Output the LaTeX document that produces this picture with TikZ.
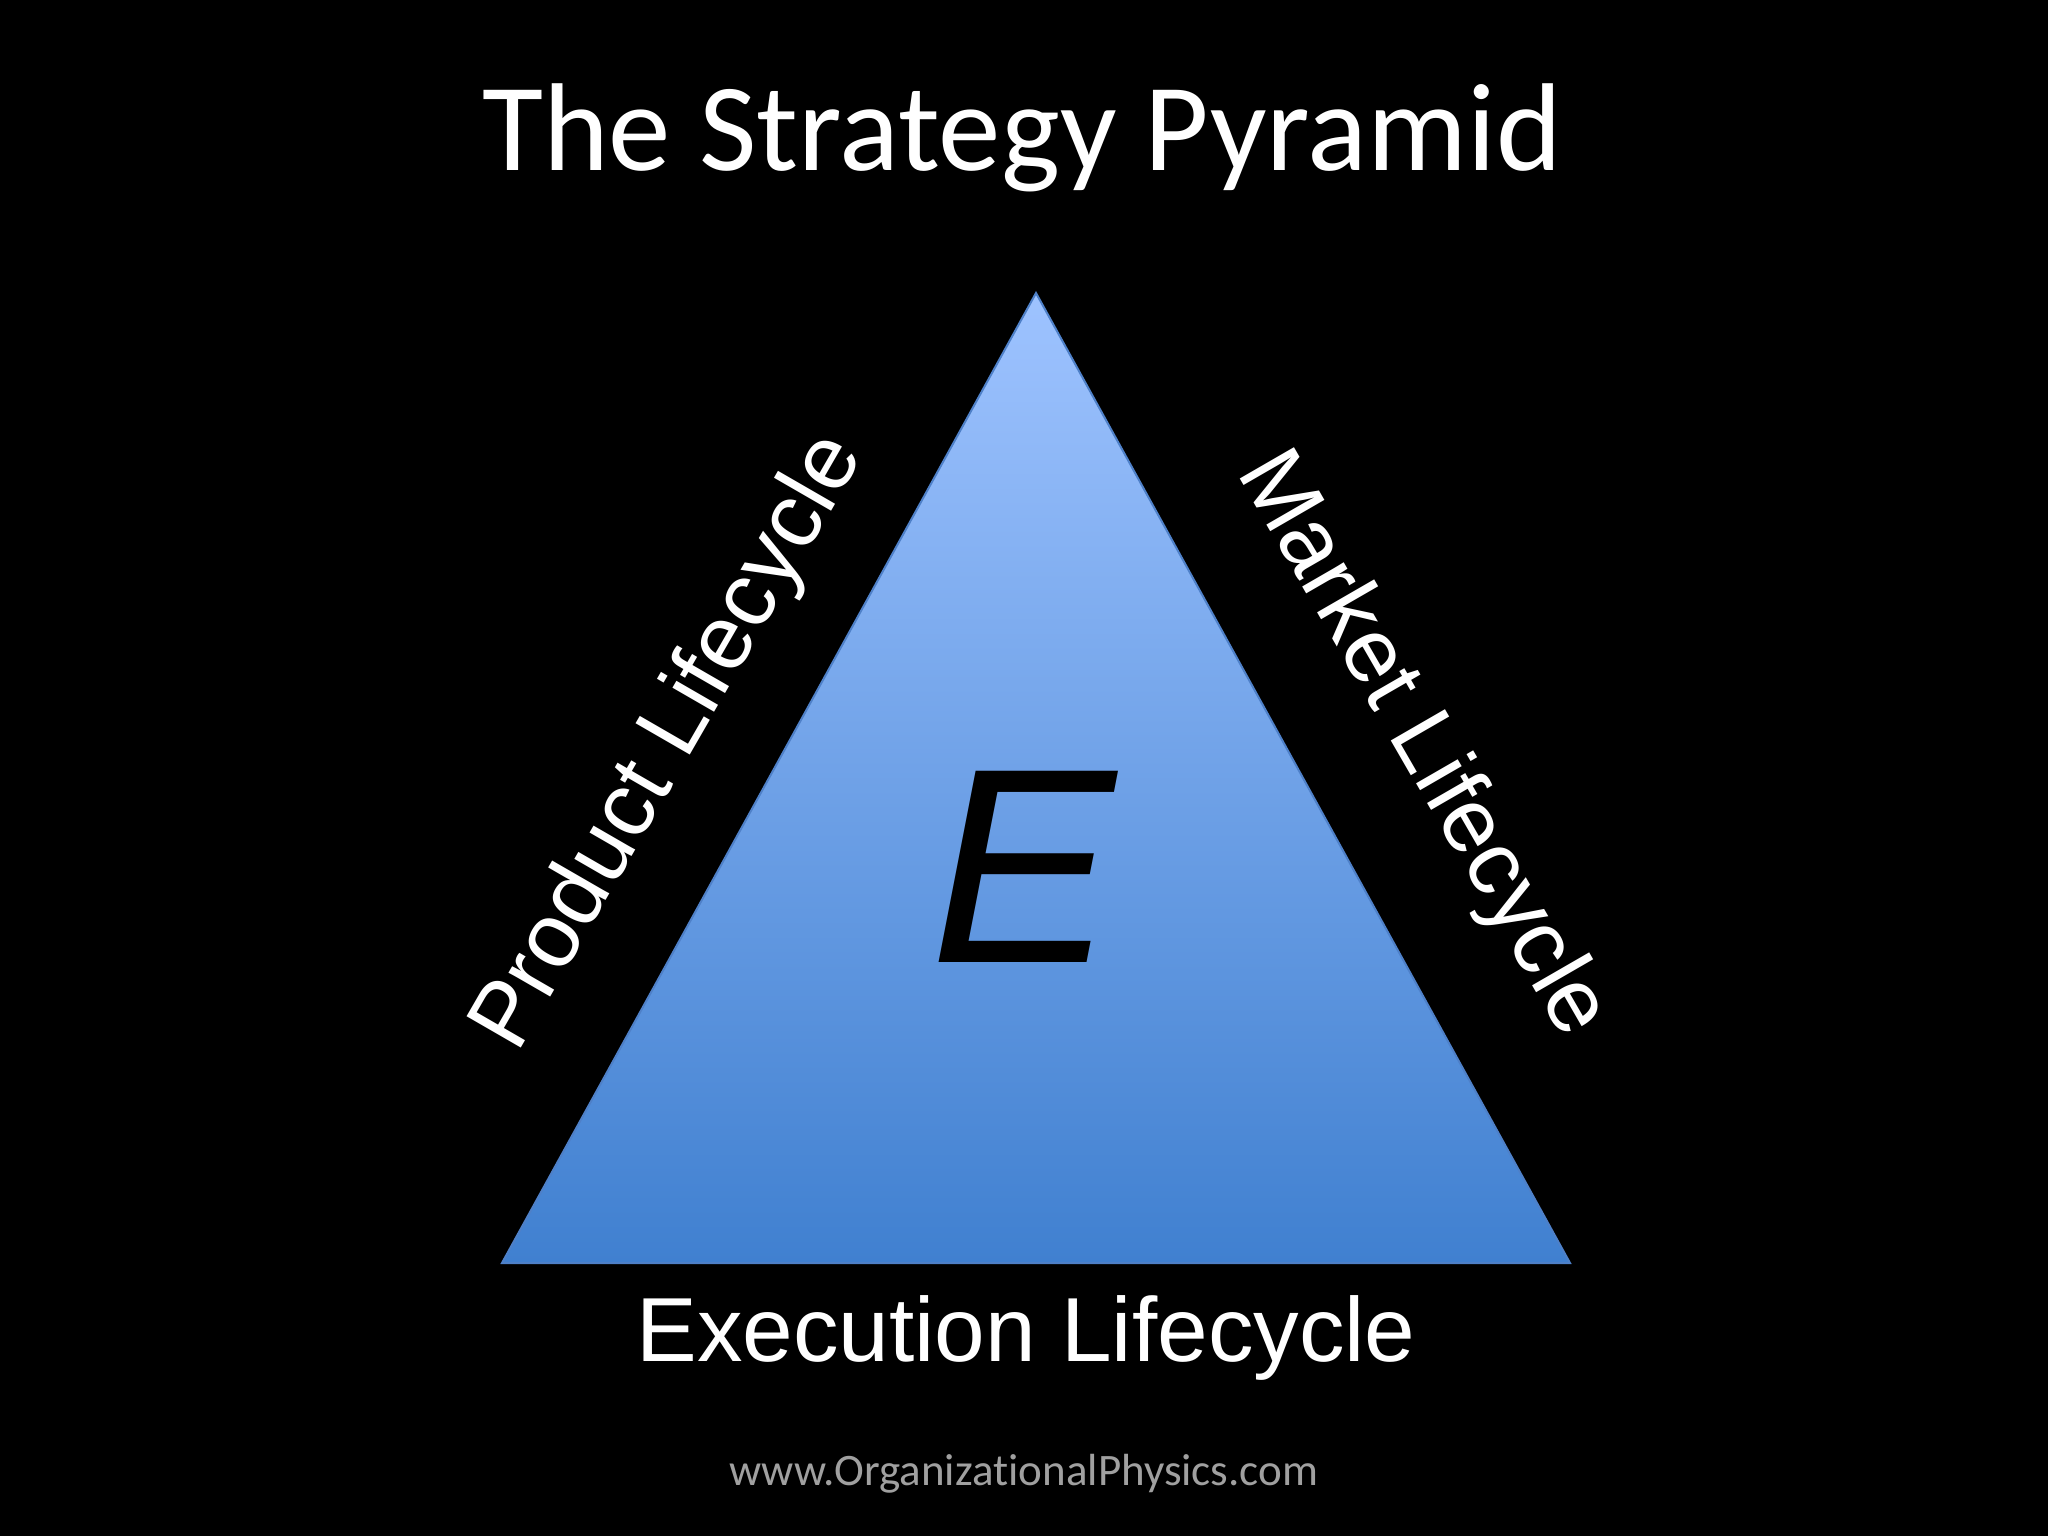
\documentclass[tikz,border=0pt]{standalone}
\usepackage{fontspec}
\setmainfont{Liberation Sans}
\newfontfamily\calibrifont[Ligatures=NoCommon]{Carlito}
\definecolor{pyrtop}{RGB}{158,195,255}
\definecolor{pyrbot}{RGB}{64,128,208}
\definecolor{pyredge}{RGB}{78,128,200}
\definecolor{urlgray}{RGB}{160,160,160}
\begin{document}
\begin{tikzpicture}[x=1bp,y=-1bp,
  lbl/.style={text=white, inner sep=0pt, font=\fontsize{91bp}{100bp}\selectfont}]
\fill[black] (0,0) rectangle (2048,1536);
\useasboundingbox (0,0) rectangle (2048,1536);
\coordinate (apex) at (1036,293);
\coordinate (bl) at (502,1263);
\coordinate (br) at (1570,1263);
\shade[top color=pyrtop, bottom color=pyrbot] (apex) -- (br) -- (bl) -- cycle;
\draw[pyredge, line width=2bp, line join=miter] (apex) -- (br) -- (bl) -- cycle;
\node[anchor=base, text=white, font=\calibrifont\fontsize{125bp}{140bp}\selectfont, inner sep=0pt] (title) at (1022,171) {The Strategy Pyramid};
\node[anchor=base, font=\itshape\fontsize{278bp}{300bp}\selectfont, inner sep=0pt] (e) at (1023,962) {E};
\node[lbl, anchor=base] (exec) at (1026,1361) {Execution Lifecycle};
\node[lbl, rotate=60] (prod) at (670,743) {Product Lifecycle};
\node[lbl, rotate=-60] (mkt) at (1421,745) {Market Lifecycle};
\node[anchor=base, text=urlgray, font=\calibrifont\fontsize{45bp}{50bp}\selectfont, inner sep=0pt] (url) at (1024,1485) {www.OrganizationalPhysics.com};
\end{tikzpicture}
\end{document}
